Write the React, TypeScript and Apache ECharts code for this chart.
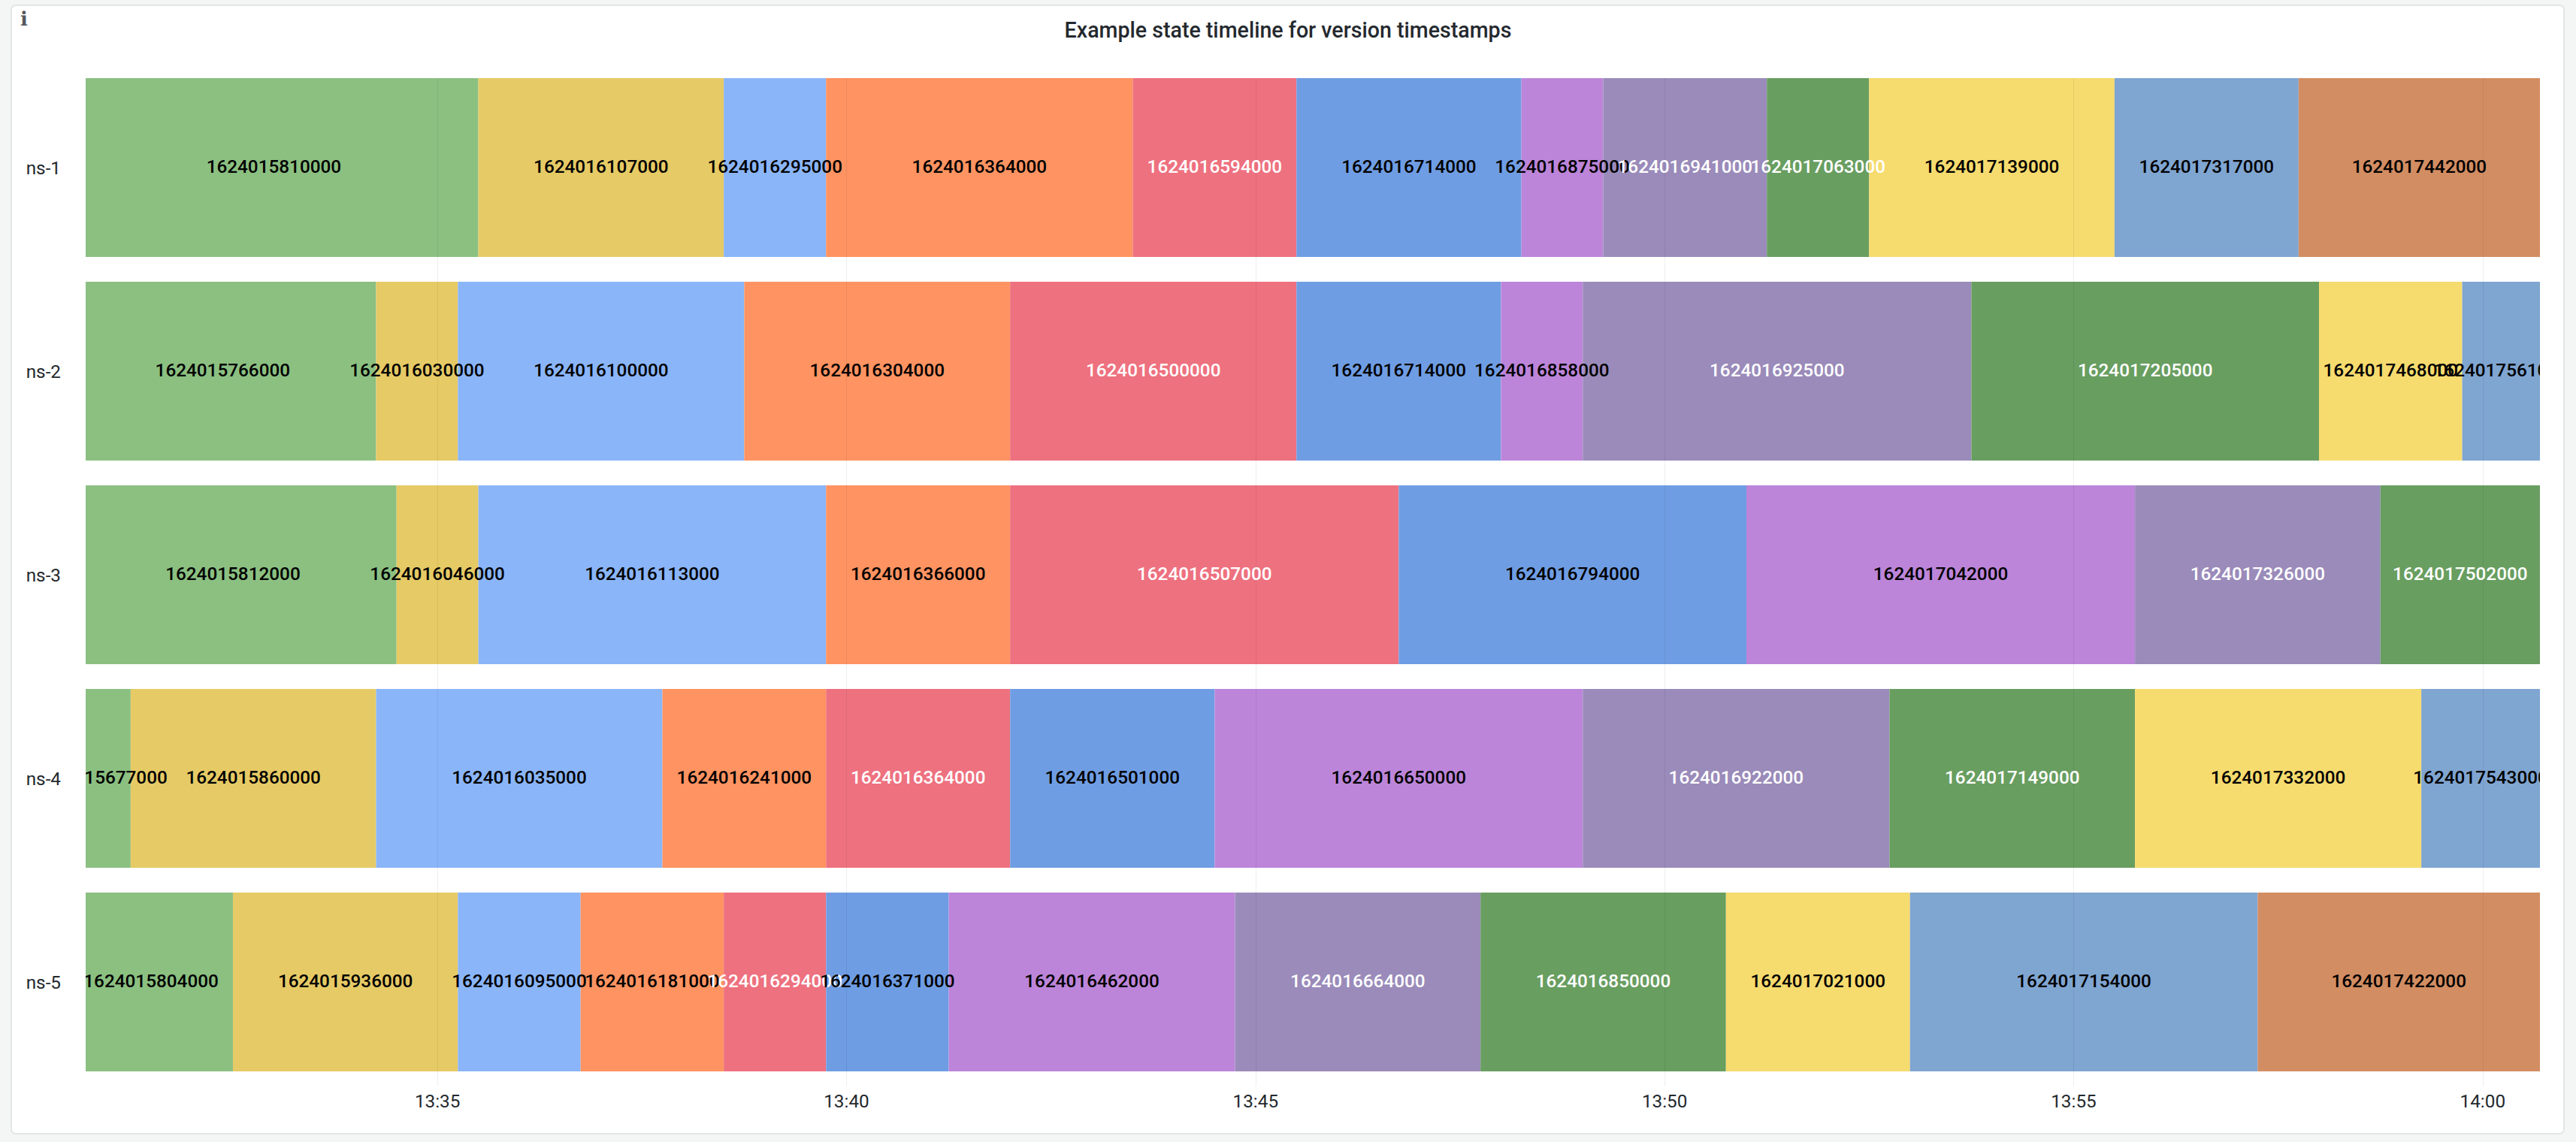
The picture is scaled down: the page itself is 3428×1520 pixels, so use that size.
import React, { useEffect, useRef } from "react";
import * as echarts from "echarts";

const chartTitle = "Example state timeline for version timestamps";
const rowNames = ["ns-1", "ns-2", "ns-3", "ns-4", "ns-5"];
const tickLabels = ["13:35", "13:40", "13:45", "13:50", "13:55", "14:00"];

const axisStart = "13:30:42";
const axisEnd = "14:00:42";

const ns1Starts = ["13:30:30", "13:35:30", "13:38:30", "13:39:45", "13:43:30", "13:45:30", "13:48:15", "13:49:15", "13:51:15", "13:52:30", "13:55:30", "13:57:45"];
const ns2Starts = ["13:30:30", "13:34:15", "13:35:15", "13:38:45", "13:42:00", "13:45:30", "13:48:00", "13:49:00", "13:53:45", "13:58:00", "13:59:45"];
const ns3Starts = ["13:30:30", "13:34:30", "13:35:30", "13:39:45", "13:42:00", "13:46:45", "13:51:00", "13:55:45", "13:58:45"];
const ns4Starts = ["13:30:30", "13:31:15", "13:34:15", "13:37:45", "13:39:45", "13:42:00", "13:44:30", "13:49:00", "13:52:45", "13:55:45", "13:59:15"];
const ns5Starts = ["13:30:30", "13:32:30", "13:35:15", "13:36:45", "13:38:30", "13:39:45", "13:41:15", "13:44:45", "13:47:45", "13:50:45", "13:53:00", "13:57:15"];

const ns1Values = ["1624015810000", "1624016107000", "1624016295000", "1624016364000", "1624016594000", "1624016714000", "1624016875000", "1624016941000", "1624017063000", "1624017139000", "1624017317000", "1624017442000"];
const ns2Values = ["1624015766000", "1624016030000", "1624016100000", "1624016304000", "1624016500000", "1624016714000", "1624016858000", "1624016925000", "1624017205000", "1624017468000", "1624017561000"];
const ns3Values = ["1624015812000", "1624016046000", "1624016113000", "1624016366000", "1624016507000", "1624016794000", "1624017042000", "1624017326000", "1624017502000"];
const ns4Values = ["1624015677000", "1624015860000", "1624016035000", "1624016241000", "1624016364000", "1624016501000", "1624016650000", "1624016922000", "1624017149000", "1624017332000", "1624017543000"];
const ns5Values = ["1624015804000", "1624015936000", "1624016095000", "1624016181000", "1624016294000", "1624016371000", "1624016462000", "1624016664000", "1624016850000", "1624017021000", "1624017154000", "1624017422000"];

const fillColors = ["#8BC081", "#E6CA65", "#8AB5F8", "#FF9361", "#EE717F", "#6F9DE3", "#BC85D9", "#9A8BBA", "#689E60", "#F6DB6E", "#7FA5D1", "#D28D62"];
const textColors = ["#000", "#000", "#000", "#000", "#fff", "#000", "#000", "#fff", "#fff", "#000", "#000", "#000"];

const allStarts = [ns1Starts, ns2Starts, ns3Starts, ns4Starts, ns5Starts];
const allValues = [ns1Values, ns2Values, ns3Values, ns4Values, ns5Values];

const toSec = (t: string) => {
  const [h, m, s] = t.split(":").map(Number);
  return h * 3600 + m * 60 + (s || 0);
};
const tickValues = tickLabels.map(toSec);

type Seg = { value: [number, number, number]; label: string; color: number };
const segments: Seg[] = [];
allStarts.forEach((starts, row) => {
  starts.forEach((s, i) => {
    const end = i + 1 < starts.length ? toSec(starts[i + 1]) : toSec(axisEnd);
    segments.push({ value: [toSec(s), end, row], label: allValues[row][i], color: i });
  });
});

const BAR_RATIO = 238 / 271;
const FONT = "Roboto, 'Noto Sans', sans-serif";

export default function App() {
  const ref = useRef<HTMLDivElement>(null);
  useEffect(() => {
    const chart = echarts.init(ref.current!, null, { renderer: "svg" });
    const option: any = {
      animation: false,
      backgroundColor: "#f4f5f5",
      title: {
        text: chartTitle,
        left: "center",
        top: 19,
        textStyle: { fontFamily: FONT, fontSize: 28.6, fontWeight: 500, color: "#24292e", lineHeight: 32 },
      },
      graphic: [
        { type: "rect", z: -10, shape: { x: 15, y: 7, width: 3397, height: 1502, r: 6 }, style: { fill: "#ffffff", stroke: "#e4e5e6", lineWidth: 2 } },
        { type: "text", z: -9, style: { x: 32, y: 25, text: "ℹ", align: "center", verticalAlign: "middle", fill: "#55585e", fontSize: 26, fontWeight: "bold", fontFamily: "DejaVu Sans" } },
      ],
      grid: [
        { left: 114, width: 3266, top: 87.5, height: 1355 },
        { left: 114, width: 3266, top: 104, height: 1342 },
      ],
      xAxis: [
        { type: "value", gridIndex: 0, min: toSec(axisStart), max: toSec(axisEnd), show: false, splitLine: { show: false } },
        {
          type: "value",
          gridIndex: 1,
          z: 3,
          min: toSec(axisStart),
          max: toSec(axisEnd),
          axisLine: { show: false },
          axisTick: { show: false, customValues: tickValues },
          splitLine: { show: true, lineStyle: { color: "rgba(0,10,23,0.07)", width: 1 } },
          axisLabel: {
            show: true,
            margin: 7,
            customValues: tickValues,
            hideOverlap: false,
            fontFamily: FONT,
            fontSize: 24.3,
            color: "#24292e",
            formatter: (v: number) => tickLabels[tickValues.indexOf(v)] ?? "",
          },
        },
      ],
      yAxis: [
        {
          type: "category",
          gridIndex: 0,
          inverse: true,
          data: rowNames,
          axisLine: { show: false },
          axisTick: { show: false },
          splitLine: { show: false },
          axisLabel: { margin: 33, padding: [0, 0, 4, 0], fontFamily: FONT, fontSize: 24.3, color: "#24292e" },
        },
        { type: "value", gridIndex: 1, show: false, splitLine: { show: false } },
      ],
      series: [
        {
          type: "custom",
          name: "states",
          xAxisIndex: 0,
          yAxisIndex: 0,
          z: 2,
          silent: true,
          clip: true,
          encode: { x: [0, 1], y: 2 },
          data: segments.map((s) => s.value),
          renderItem: (params: any, api: any) => {
            const seg = segments[params.dataIndex];
            const a = api.coord([api.value(0), api.value(2)]);
            const b = api.coord([api.value(1), api.value(2)]);
            const h = api.size([0, 1])[1] * BAR_RATIO;
            return {
              type: "rect",
              shape: { x: a[0], y: a[1] - h / 2, width: b[0] - a[0], height: h },
              style: { fill: fillColors[seg.color] },
            };
          },
        },
        {
          type: "custom",
          name: "values",
          xAxisIndex: 0,
          yAxisIndex: 0,
          z: 4,
          silent: true,
          clip: true,
          encode: { x: [0, 1], y: 2 },
          data: segments.map((s) => s.value),
          renderItem: (params: any, api: any) => {
            const seg = segments[params.dataIndex];
            const a = api.coord([api.value(0), api.value(2)]);
            const b = api.coord([api.value(1), api.value(2)]);
            return {
              type: "text",
              style: {
                x: (a[0] + b[0]) / 2,
                y: a[1] - 2,
                text: seg.label,
                align: "center",
                verticalAlign: "middle",
                fill: textColors[seg.color],
                fontFamily: FONT,
                fontSize: 24.3,
                fontWeight: 500,
              },
            };
          },
        },
      ],
    };
    chart.setOption(option);
    return () => chart.dispose();
  }, []);
  return <div ref={ref} style={{ position: "absolute", left: 0, top: 0, width: 3428, height: 1520 }} />;
}
